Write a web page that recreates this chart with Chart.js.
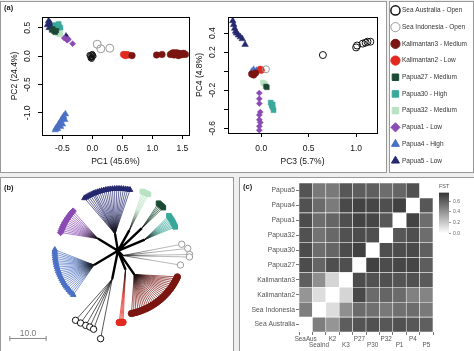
<!DOCTYPE html>
<html>
<head>
<meta charset="utf-8">
<script src="https://cdn.jsdelivr.net/npm/chart.js@4.4.0/dist/chart.umd.min.js"></script>
<style>
html, body { margin: 0; padding: 0; width: 474px; height: 351px; overflow: hidden; background: #efefef; }
.frame { position: absolute; background: #fff; border: 1.5px solid #999; box-sizing: border-box; overflow: hidden; }
.tag { position: absolute; font: bold 7.5px 'Liberation Sans', Arial, sans-serif; color: #222; }
canvas { position: absolute; }
</style>
</head>
<body>
<div class="frame" style="left:0;top:1px;width:387px;height:172px"></div>
<div class="frame" style="left:389px;top:1px;width:85px;height:172px">
  <canvas id="legend" width="200" height="200" style="left:-8px;top:-5.5px"></canvas>
</div>
<div class="frame" style="left:0;top:177px;width:234px;height:180px"></div>
<div class="frame" style="left:239px;top:177px;width:240px;height:180px"></div>

<canvas id="pc12" width="194" height="172" style="left:0;top:0"></canvas>
<canvas id="pc34" width="194" height="172" style="left:188px;top:0"></canvas>
<canvas id="tree" width="233" height="173" style="left:0;top:178px"></canvas>
<canvas id="heat" width="235" height="173" style="left:239px;top:178px"></canvas>
<canvas id="cbar" width="38" height="60" style="left:436px;top:180px"></canvas>

<div class="tag" style="left:4px;top:3px">(a)</div>
<div class="tag" style="left:4px;top:183px">(b)</div>
<div class="tag" style="left:243px;top:182px">(c)</div>

<script>
// Population structure figure: PCA (a), NJ tree (b), pairwise FST heatmap (c)

const FONT = "'Liberation Sans', Arial, sans-serif";

// ---- groups (legend order) ----
const groupNames = ['Sea Australia - Open', 'Sea Indonesia - Open', 'Kalimantan3 - Medium', 'Kalimantan2 - Low',
  'Papua27 - Medium', 'Papua30 - High', 'Papua32 - Medium', 'Papua1 - Low', 'Papua4 - High', 'Papua5 - Low'];
const groupColors = ['#111111', '#9a9a9a', '#7a1512', '#e3281f', '#1b4b34', '#3aa89b', '#b9e2c3', '#8a4bb4', '#4b70c4', '#25286f'];
const groupShapes = ['circle', 'circle', 'circle', 'circle', 'rect', 'rect', 'rect', 'rectRot', 'triangle', 'triangle'];
const groupOpen = [true, true, false, false, false, false, false, false, false, false];

// ---- PC1 / PC2 scores ----
const pc12SeaAus = [[-0.04, 0.0], [-0.02, 0.03], [0.0, -0.02], [-0.03, -0.04], [0.01, 0.02], [-0.01, -0.05], [0.02, 0.0], [-0.05, 0.02], [0.0, 0.04], [-0.02, -0.02]];
const pc12SeaInd = [[0.08, 0.21], [0.14, 0.13], [0.29, 0.14]];
const pc12Kal3 = [[0.66, 0.01], [1.07, 0.02], [1.16, 0.03], [1.3, 0.03], [1.33, 0.05], [1.36, 0.02], [1.38, 0.04], [1.4, 0.06], [1.42, 0.03], [1.44, 0.05], [1.46, 0.02], [1.48, 0.04], [1.5, 0.03], [1.52, 0.05], [1.55, 0.03], [1.35, 0.06], [1.43, 0.01]];
const pc12Kal2 = [[0.52, 0.03], [0.55, 0.01], [0.57, 0.03], [0.6, 0.02], [0.54, 0.02]];
const pc12P27 = [[-0.66, 0.48], [-0.64, 0.44], [-0.62, 0.42], [-0.68, 0.46], [-0.6, 0.45]];
const pc12P30 = [[-0.62, 0.55], [-0.6, 0.53], [-0.57, 0.55], [-0.55, 0.52], [-0.53, 0.5], [-0.58, 0.5], [-0.56, 0.57]];
const pc12P32 = [[-0.58, 0.4], [-0.55, 0.38], [-0.53, 0.4], [-0.56, 0.42]];
const pc12P1 = [[-0.47, 0.32], [-0.44, 0.3], [-0.42, 0.28], [-0.4, 0.3], [-0.33, 0.22]];
const pc12P4 = [[-0.45, -1.02], [-0.48, -1.06], [-0.5, -1.1], [-0.52, -1.13], [-0.46, -1.12], [-0.55, -1.18], [-0.57, -1.22], [-0.6, -1.26], [-0.58, -1.28], [-0.53, -1.24], [-0.62, -1.3], [-0.5, -1.2]];
const pc12P5 = [[-0.73, 0.62], [-0.75, 0.55], [-0.7, 0.58], [-0.72, 0.5], [-0.68, 0.52], [-0.44, 0.35], [-0.42, 0.32]];

// ---- PC3 / PC4 scores ----
const pc34SeaAus = [[0.65, 0.17], [1.0, 0.25], [1.01, 0.27], [1.07, 0.29], [1.1, 0.3], [1.12, 0.31], [1.15, 0.31]];
const pc34SeaInd = [[0.05, 0.02]];
const pc34Kal3 = [[-0.1, -0.03], [-0.08, -0.04], [-0.06, -0.02]];
const pc34Kal2 = [[0.0, 0.01], [-0.01, 0.02]];
const pc34P27 = [[0.05, -0.16], [0.06, -0.17]];
const pc34P30 = [[0.1, -0.33], [0.11, -0.36], [0.12, -0.38], [0.13, -0.41], [0.12, -0.35]];
const pc34P32 = [[0.02, -0.12], [0.03, -0.13], [0.04, -0.14]];
const pc34P1 = [[-0.02, -0.23], [-0.02, -0.29], [-0.02, -0.34], [-0.01, -0.43], [-0.02, -0.46], [-0.02, -0.51], [-0.01, -0.54], [-0.02, -0.58], [-0.02, -0.62]];
const pc34P4 = [[-0.1, 0.0], [-0.08, 0.02], [-0.05, 0.01], [-0.03, 0.0], [-0.07, -0.01]];
const pc34P5 = [[-0.3, 0.53], [-0.29, 0.49], [-0.28, 0.45], [-0.27, 0.42], [-0.26, 0.4], [-0.24, 0.38], [-0.22, 0.36], [-0.2, 0.34], [-0.17, 0.28]];

const pc12Sets = [pc12SeaAus, pc12SeaInd, pc12Kal3, pc12Kal2, pc12P27, pc12P30, pc12P32, pc12P1, pc12P4, pc12P5];
const pc34Sets = [pc34SeaAus, pc34SeaInd, pc34Kal3, pc34Kal2, pc34P27, pc34P30, pc34P32, pc34P1, pc34P4, pc34P5];

// ---- tree: clade nodes and tips (angle in degrees, radius from root) ----
const cladeGroup = [9, 7, 8, 6, 4, 5, 1, 2, 3, 0]; // index into groups
const cladeNodes = [[-3, 18], [-21, 13], [-25, -15], [12, 22], [25, 24], [28, 12], [5, -5], [17, -25], [8, -20], [-6, -30]];
const tipAngles = [
  [122, 120, 118, 116, 114, 112.5, 111, 109, 107, 105, 103, 101, 99, 97, 95, 93, 91, 89, 87, 85, 83, 81, 79],
  [138, 140, 142, 144, 146, 148, 150, 152, 154, 156, 158, 160, 162],
  [179, 181, 183, 185, 187, 189, 191, 193, 195, 197, 199, 201, 203, 205, 207, 209, 211, 213, 215, 217, 219, 221, 223, 225],
  [62, 63.5, 65, 66.5, 68],
  [44, 45.5, 47, 48.5, 50],
  [23, 24.5, 26, 27.5, 29, 30.5, 32, 33.5, 35],
  [6, 2, -3, -5, -13],
  [-24, -26, -28, -30, -32, -34, -36, -38, -40, -42, -44, -46, -48, -50, -52, -54, -56, -58, -60, -62, -64, -66, -68, -70, -72, -74, -76, -78],
  [-88, -87, -86, -89],
  [-121, -117, -113, -110, -107, -101]
];
const tipRadii = [66, 63, 66, 68, 66, 65, [67, 73, 75, 75, 67], 68, 76, [86, 86, 86, 86, 87, 95]];
const scaleBarX = [-113, -75];
const scaleBarY = -93;
const scaleBarLabel = '10.0';

// ---- pairwise FST (rows bottom to top, columns left to right) ----
const heatRows = ['Sea Australia', 'Sea Indonesia', 'Kalimantan2', 'Kalimantan3', 'Papua27', 'Papua30', 'Papua32', 'Papua1', 'Papua4', 'Papua5'];
const heatCols = ['SeaAus', 'SeaInd', 'K2', 'K3', 'P27', 'P30', 'P32', 'P1', 'P4', 'P5'];
const fst = [
  [0, 0.46, 0.38, 0.58, 0.61, 0.62, 0.60, 0.62, 0.60, 0.57],
  [0.46, 0, 0.12, 0.40, 0.53, 0.51, 0.48, 0.51, 0.52, 0.48],
  [0.38, 0.12, 0, 0.15, 0.65, 0.53, 0.55, 0.53, 0.45, 0.44],
  [0.57, 0.40, 0.15, 0, 0.64, 0.62, 0.62, 0.61, 0.62, 0.59],
  [0.64, 0.55, 0.63, 0.63, 0, 0.68, 0.64, 0.66, 0.66, 0.58],
  [0.64, 0.52, 0.55, 0.64, 0.68, 0, 0.63, 0.64, 0.65, 0.57],
  [0.62, 0.50, 0.54, 0.62, 0.64, 0.63, 0, 0.60, 0.63, 0.52],
  [0.64, 0.52, 0.55, 0.63, 0.67, 0.66, 0.60, 0, 0.67, 0.52],
  [0.62, 0.53, 0.47, 0.65, 0.67, 0.66, 0.63, 0.68, 0, 0.60],
  [0.61, 0.48, 0.48, 0.60, 0.58, 0.57, 0.52, 0.55, 0.62, 0]
];
const fstTicks = [0, 0.2, 0.4, 0.6];
const fstMax = 0.76;

function fstGray(v) {
  const g = Math.max(0, Math.round(255 - 280 * Math.min(v, 0.72)));
  return `rgb(${g},${g},${g})`;
}

// ---- PCA panels ----
const boxPlugin = {
  id: 'rbox',
  afterDraw(chart) {
    const a = chart.chartArea, ctx = chart.ctx;
    ctx.save();
    ctx.strokeStyle = '#000';
    ctx.lineWidth = 1;
    ctx.strokeRect(Math.round(a.left) + 0.5, Math.round(a.top) + 0.5, Math.round(a.right - a.left), Math.round(a.bottom - a.top));
    ctx.restore();
  }
};

function rAxis(o) {
  return {
    type: 'linear', min: o.min, max: o.max,
    border: { display: false },
    grid: { display: true, drawOnChartArea: false, drawTicks: true, tickLength: 4, color: '#000' },
    ticks: {
      stepSize: o.step, includeBounds: false, autoSkip: false, color: '#111',
      font: { family: FONT, size: 8.5 }, padding: o.pad,
      minRotation: o.rot || 0, maxRotation: o.rot || 0, crossAlign: o.rot ? 'center' : 'near',
      callback: o.cb || (v => v.toFixed(1))
    },
    title: { display: true, text: o.title, color: '#111', font: { family: FONT, size: 8.5 }, padding: o.tpad },
    afterFit: s => { if (s.isHorizontal()) s.height = o.size; else s.width = o.size; }
  };
}

function pcaChart(id, sets, radii, xOpts, yOpts, pad) {
  return new Chart(document.getElementById(id), {
    type: 'scatter',
    data: {
      datasets: sets.map((pts, i) => ({
        label: groupNames[i],
        data: pts,
        pointStyle: groupShapes[i],
        pointRadius: radii[i],
        pointBackgroundColor: groupOpen[i] ? 'rgba(0,0,0,0)' : groupColors[i],
        pointBorderColor: groupColors[i],
        pointBorderWidth: groupOpen[i] ? 1 : 0.5
      }))
    },
    options: {
      responsive: false, animation: false,
      layout: { padding: pad },
      plugins: { legend: { display: false }, tooltip: { enabled: false } },
      scales: { x: rAxis(xOpts), y: rAxis(yOpts) }
    },
    plugins: [boxPlugin]
  });
}

pcaChart('pc12', pc12Sets, [2.5, 4, 3.3, 3.3, 3.3, 3.3, 3.3, 3, 3.8, 3.8],
  { min: -0.84, max: 1.61, step: 0.5, pad: 5, title: 'PC1 (45.6%)', tpad: { top: 0, bottom: 5 }, size: 37 },
  { min: -1.39, max: 0.69, step: 0.5, pad: 3, rot: 90, title: 'PC2 (24.4%)', tpad: { top: 10, bottom: 0 }, size: 42 },
  { left: 0, top: 17, right: 4, bottom: 0 });

pcaChart('pc34', pc34Sets, [3.5, 3.5, 3.3, 3.3, 3.3, 3.5, 3.5, 3, 3.5, 3.8],
  { min: -0.35, max: 1.22, step: 0.5, pad: 7, title: 'PC3 (5.7%)', tpad: { top: 0, bottom: 5 }, size: 39 },
  { min: -0.65, max: 0.57, step: 0.2, pad: 4.5, rot: 90, title: 'PC4 (4.8%)', tpad: { top: 7, bottom: 0 }, size: 40,
    cb: v => (Math.abs(v) < 1e-9 || Math.abs(v + 0.4) < 1e-9) ? '' : v.toFixed(1) },
  { left: 0, top: 17, right: 5, bottom: 0 });

// ---- legend panel ----
new Chart(document.getElementById('legend'), {
  type: 'scatter',
  data: {
    datasets: groupNames.map((name, i) => ({
      label: name, data: [],
      pointStyle: groupShapes[i],
      backgroundColor: groupOpen[i] ? '#fff' : groupColors[i],
      borderColor: groupColors[i],
      borderWidth: i === 0 ? 1.5 : 1
    }))
  },
  options: {
    responsive: false, animation: false,
    scales: { x: { display: false }, y: { display: false } },
    plugins: {
      tooltip: { enabled: false },
      legend: {
        position: 'left', align: 'start', maxWidth: 100,
        labels: {
          usePointStyle: true, padding: 10.2, color: '#333',
          font: { family: FONT, size: 6.5 },
          generateLabels: chart => chart.data.datasets.map((d, i) => ({
            text: d.label, fillStyle: d.backgroundColor, strokeStyle: d.borderColor,
            lineWidth: d.borderWidth, pointStyle: d.pointStyle, hidden: false, datasetIndex: i, fontColor: '#333'
          }))
        }
      }
    }
  }
});

// ---- tree panel ----
const treeCtx = document.getElementById('tree').getContext('2d');
const treeSets = cladeGroup.map((g, k) => {
  const [nx, ny] = cladeNodes[k];
  const pts = [];
  tipAngles[k].forEach((a, i) => {
    const r = Array.isArray(tipRadii[k]) ? tipRadii[k][i] : tipRadii[k];
    const t = a * Math.PI / 180;
    pts.push({ x: nx, y: ny }, { x: r * Math.cos(t), y: r * Math.sin(t), tip: true }, { x: null, y: null });
  });
  const color = groupColors[g];
  return {
    label: groupNames[g], data: pts, showLine: true, spanGaps: false,
    borderColor: color, borderWidth: 0.7,
    segment: {
      borderColor: c => {
        const grad = treeCtx.createLinearGradient(c.p0.x, c.p0.y, c.p1.x, c.p1.y);
        grad.addColorStop(0, '#111');
        grad.addColorStop(0.55, color);
        grad.addColorStop(1, color);
        return grad;
      }
    },
    pointStyle: groupShapes[g],
    pointRadius: c => (c.raw && c.raw.tip ? 3.2 : 0),
    pointBackgroundColor: groupOpen[g] ? '#fff' : color,
    pointBorderColor: color,
    pointBorderWidth: 1
  };
});
const stemPts = [];
cladeNodes.forEach(([nx, ny]) => stemPts.push({ x: 0, y: 0 }, { x: nx, y: ny }, { x: null, y: null }));

new Chart(treeCtx, {
  type: 'scatter',
  data: {
    datasets: [
      { label: 'stems', data: stemPts, showLine: true, spanGaps: false, borderColor: '#000', borderWidth: 2.4, pointRadius: 0 },
      { label: 'scale', data: [{ x: scaleBarX[0], y: scaleBarY }, { x: scaleBarX[1], y: scaleBarY }], showLine: true,
        borderColor: '#888', borderWidth: 1, pointStyle: 'line', rotation: 90, pointRadius: 2.5, pointBorderColor: '#888', pointBorderWidth: 1 },
      ...treeSets
    ]
  },
  options: {
    responsive: false, animation: false,
    layout: { padding: 0 },
    plugins: { legend: { display: false }, tooltip: { enabled: false } },
    scales: {
      x: { display: false, min: -118, max: 115 },
      y: { display: false, min: -101, max: 72 }
    }
  },
  plugins: [{
    id: 'scaleText',
    afterDatasetsDraw(chart) {
      const { x, y } = chart.scales;
      const ctx = chart.ctx;
      ctx.save();
      ctx.fillStyle = '#777';
      ctx.font = `8.5px ${FONT}`;
      ctx.textAlign = 'center';
      ctx.textBaseline = 'bottom';
      ctx.fillText(scaleBarLabel, x.getPixelForValue((scaleBarX[0] + scaleBarX[1]) / 2), y.getPixelForValue(scaleBarY) - 1);
      ctx.restore();
    }
  }]
});

// ---- FST heatmap ----
new Chart(document.getElementById('heat'), {
  type: 'bar',
  data: {
    labels: heatCols.map((c, i) => (i % 2 ? ['', c] : [c, ''])),
    datasets: heatRows.map((row, r) => ({
      label: row,
      data: heatCols.map(() => 1),
      backgroundColor: fst[r].map(fstGray),
      borderColor: 'rgba(255,255,255,0.35)',
      borderWidth: 0.6,
      borderSkipped: false,
      barPercentage: 1,
      categoryPercentage: 1
    }))
  },
  options: {
    responsive: false, animation: false,
    layout: { padding: { left: 0, top: 5, right: 41, bottom: 0 } },
    plugins: { legend: { display: false }, tooltip: { enabled: false } },
    scales: {
      x: {
        stacked: true,
        border: { display: false },
        grid: { drawOnChartArea: false, tickLength: 3, color: '#777' },
        ticks: { autoSkip: false, maxRotation: 0, color: '#555', padding: 1, font: { family: FONT, size: 6.3, lineHeight: 1.0 } },
        afterFit: s => { s.height = 19; }
      },
      y: {
        stacked: true, min: 0, max: 10,
        border: { display: false },
        grid: { drawOnChartArea: false, tickLength: 3, color: '#777' },
        afterBuildTicks: s => { s.ticks = heatRows.map((_, i) => ({ value: i + 0.5 })); },
        ticks: { autoSkip: false, color: '#555', padding: 1, font: { family: FONT, size: 6.8 }, callback: (v, i) => heatRows[i] },
        afterFit: s => { s.width = 60; }
      }
    }
  }
});

// ---- FST colour bar ----
new Chart(document.getElementById('cbar'), {
  type: 'bar',
  data: {
    labels: [''],
    datasets: [{
      data: [[0, fstMax]],
      barPercentage: 1, categoryPercentage: 1,
      backgroundColor: c => {
        const chart = c.chart, a = chart.chartArea;
        if (!a) return '#888';
        const y = chart.scales.y;
        const grad = chart.ctx.createLinearGradient(0, y.getPixelForValue(0), 0, y.getPixelForValue(fstMax));
        grad.addColorStop(0, '#fff');
        grad.addColorStop(1, fstGray(fstMax));
        return grad;
      }
    }]
  },
  options: {
    responsive: false, animation: false,
    layout: { padding: { left: 3, top: 0, right: 0, bottom: 4 } },
    plugins: {
      legend: { display: false }, tooltip: { enabled: false },
      title: { display: true, text: 'FST', align: 'start', color: '#555', font: { family: FONT, size: 5.5, weight: 'normal' }, padding: { top: 3, bottom: 3 } }
    },
    scales: {
      x: { display: false },
      y: {
        position: 'right', min: -0.03, max: fstMax,
        border: { display: false },
        grid: { drawOnChartArea: false, tickLength: 2, color: '#999' },
        afterBuildTicks: s => { s.ticks = fstTicks.map(v => ({ value: v })); },
        ticks: { color: '#666', padding: 2, font: { family: FONT, size: 5 }, callback: v => v.toFixed(1) },
        afterFit: s => { s.width = 25; }
      }
    }
  }
});
</script>
</body>
</html>
